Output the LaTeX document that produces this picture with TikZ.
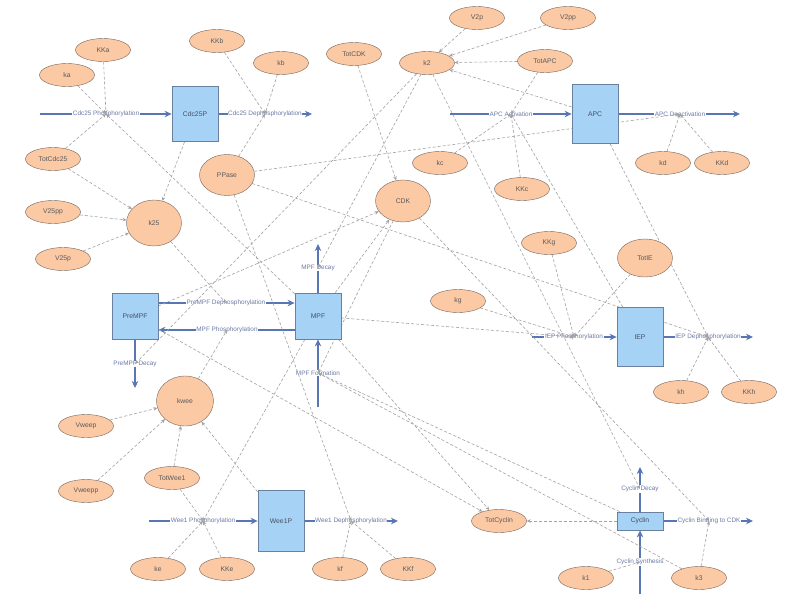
\documentclass[tikz,border=0pt]{standalone}
\usepackage{fontspec}
\setmainfont{Liberation Sans}
\usetikzlibrary{shapes.geometric,arrows.meta,backgrounds}
\definecolor{spfill}{RGB}{252,201,165}
\definecolor{spdraw}{RGB}{120,100,90}
\definecolor{boxfill}{RGB}{166,210,245}
\definecolor{boxdraw}{RGB}{105,128,158}
\definecolor{flowblue}{RGB}{88,118,180}
\definecolor{lblblue}{RGB}{108,122,165}
\definecolor{modgrey}{RGB}{162,162,162}
\definecolor{pooltext}{RGB}{70,80,100}

\begin{document}
\begin{tikzpicture}[x=1pt,y=-1pt,
    species/.style={ellipse,draw=spdraw,fill=spfill,minimum width=55,minimum height=23,
      inner sep=0,text=black!65,font=\fontsize{6.8}{7}\selectfont},
    bigspecies/.style={species,minimum height=42},
    pool/.style={rectangle,draw=boxdraw,line width=0.8pt,fill=boxfill,minimum width=46,
      inner sep=0,text=pooltext,font=\fontsize{6.8}{7}\selectfont},
    flowline/.style={draw=flowblue,line width=1.5pt},
    flow/.style={flowline,-{Stealth[length=7pt,width=6.5pt]}},
    rlabel/.style={fill=white,text=lblblue,inner sep=0.4pt,font=\fontsize{6.4}{7}\selectfont},
    modif/.style={draw=modgrey,line width=0.6pt,dash pattern=on 3pt off 2pt,
      -{Stealth[length=4pt,width=3.5pt]}}]
\useasboundingbox (0,0) rectangle (800,600);

% parameters and totals
\foreach \n/\x/\y in {KKa/103/50, ka/67/75, KKb/217/41, kb/281/63, TotCDK/354/54,
    V2p/477/18, V2pp/568/18, k2/427/63, TotAPC/545/61, kc/440/163, KKc/522/189,
    kd/663/163, KKd/722/163, TotCdc25/53/159, V25pp/53/212, V25p/63/259,
    KKg/549/243, kg/458/301, kh/681/392, KKh/749/392, Vweep/86/426, Vweepp/86/491,
    TotWee1/172/478, ke/158/569, KKe/227/569, kf/340/569, KKf/408/569,
    TotCyclin/499/521, k1/586/578, k3/699/578}
  \node[species] (\n) at (\x,\y) {\n};
\node[bigspecies,minimum height=41] (PPase) at (227,175) {PPase};
\node[bigspecies,minimum height=46] (k25) at (154,223) {k25};
\node[bigspecies] (CDK) at (403,201) {CDK};
\node[bigspecies,minimum height=38] (TotIE) at (645,258) {TotIE};
\node[bigspecies,minimum width=57,minimum height=50] (kwee) at (185,401) {kwee};

% species pools
\node[pool,minimum height=55] (Cdc25P) at (195,114) {Cdc25P};
\node[pool,minimum height=59] (APC) at (595,114) {APC};
\node[pool,minimum height=46] (PreMPF) at (135,316) {PreMPF};
\node[pool,minimum height=46] (MPF) at (318,316) {MPF};
\node[pool,minimum height=59] (IEP) at (640,337) {IEP};
\node[pool,minimum height=61] (Wee1P) at (281,521) {Wee1P};
\node[pool,minimum height=18] (Cyclin) at (640,521) {Cyclin};

\begin{scope}[on background layer]
\fill[white] (0,0) rectangle (800,600);
% reactions
\coordinate (sCdcPh) at (40,114);
\node[rlabel] (rCdcPh) at (106,114) {Cdc25 Phosphorylation};
\draw[flowline] (sCdcPh) -- (rCdcPh);
\draw[flow] (rCdcPh) -- (Cdc25P);

\node[rlabel] (rCdcDeph) at (265,114) {Cdc25 Dephosphorylation};
\coordinate (eCdcDeph) at (312,114);
\draw[flowline] (Cdc25P) -- (rCdcDeph);
\draw[flow] (rCdcDeph) -- (eCdcDeph);

\coordinate (sAPCAct) at (450,114);
\node[rlabel] (rAPCAct) at (511,114) {APC Activation};
\draw[flowline] (sAPCAct) -- (rAPCAct);
\draw[flow] (rAPCAct) -- (APC);

\node[rlabel] (rAPCDeact) at (680,114) {APC Deactivation};
\coordinate (eAPCDeact) at (740,114);
\draw[flowline] (APC) -- (rAPCDeact);
\draw[flow] (rAPCDeact) -- (eAPCDeact);

\node[rlabel] (rPreDeph) at (226,303) {PreMPF Dephosphorylation};
\draw[flowline] (PreMPF.east |- rPreDeph) -- (rPreDeph);
\draw[flow] (rPreDeph) -- (MPF.west |- rPreDeph);

\node[rlabel] (rMPFPh) at (227,330) {MPF Phosphorylation};
\draw[flowline] (MPF.west |- rMPFPh) -- (rMPFPh);
\draw[flow] (rMPFPh) -- (PreMPF.east |- rMPFPh);

\node[rlabel] (rPreDec) at (135,364) {PreMPF Decay};
\coordinate (ePreDec) at (135,388);
\draw[flowline] (PreMPF) -- (rPreDec);
\draw[flow] (rPreDec) -- (ePreDec);

\node[rlabel] (rMPFDec) at (318,268) {MPF Decay};
\coordinate (eMPFDec) at (318,244);
\draw[flowline] (MPF) -- (rMPFDec);
\draw[flow] (rMPFDec) -- (eMPFDec);

\coordinate (sMPFForm) at (318,407);
\node[rlabel] (rMPFForm) at (318,373) {MPF Formation};
\draw[flowline] (sMPFForm) -- (rMPFForm);
\draw[flow] (rMPFForm) -- (MPF);

\coordinate (sWeePh) at (149,521);
\node[rlabel] (rWeePh) at (203,521) {Wee1 Phosphorylation};
\draw[flowline] (sWeePh) -- (rWeePh);
\draw[flow] (rWeePh) -- (Wee1P);

\node[rlabel] (rWeeDeph) at (351,521) {Wee1 Dephosphorylation};
\coordinate (eWeeDeph) at (398,521);
\draw[flowline] (Wee1P) -- (rWeeDeph);
\draw[flow] (rWeeDeph) -- (eWeeDeph);

\coordinate (sIEPPh) at (532,337);
\node[rlabel] (rIEPPh) at (574,337) {IEP Phosphorylation};
\draw[flowline] (sIEPPh) -- (rIEPPh);
\draw[flow] (rIEPPh) -- (IEP);

\node[rlabel] (rIEPDeph) at (708,337) {IEP Dephosphorylation};
\coordinate (eIEPDeph) at (753,337);
\draw[flowline] (IEP) -- (rIEPDeph);
\draw[flow] (rIEPDeph) -- (eIEPDeph);

\node[rlabel] (rCycDec) at (640,489) {Cyclin Decay};
\coordinate (eCycDec) at (640,467);
\draw[flowline] (Cyclin) -- (rCycDec);
\draw[flow] (rCycDec) -- (eCycDec);

\node[rlabel] (rCycBind) at (709,521) {Cyclin Binding to CDK};
\coordinate (eCycBind) at (753,521);
\draw[flowline] (Cyclin) -- (rCycBind);
\draw[flow] (rCycBind) -- (eCycBind);

\coordinate (sCycSyn) at (640,594);
\node[rlabel] (rCycSyn) at (640,562) {Cyclin Synthesis};
\draw[flowline] (sCycSyn) -- (rCycSyn);
\draw[flow] (rCycSyn) -- (Cyclin);

% modifiers of reactions
\foreach \a/\b in {KKa/rCdcPh, ka/rCdcPh, TotCdc25/rCdcPh, MPF/rCdcPh,
    KKb/rCdcDeph, kb/rCdcDeph, PPase/rCdcDeph,
    TotAPC/rAPCAct, kc/rAPCAct, KKc/rAPCAct, IEP/rAPCAct,
    kd/rAPCDeact, KKd/rAPCDeact, PPase/rAPCDeact,
    k25/rPreDeph, kwee/rMPFPh, k2/rPreDec, k2/rMPFDec,
    CDK/rMPFForm, Cyclin/rMPFForm, k3/rMPFForm,
    TotWee1/rWeePh, ke/rWeePh, KKe/rWeePh, MPF/rWeePh,
    kf/rWeeDeph, KKf/rWeeDeph, PPase/rWeeDeph,
    kg/rIEPPh, KKg/rIEPPh, TotIE/rIEPPh, MPF/rIEPPh,
    kh/rIEPDeph, KKh/rIEPDeph, PPase/rIEPDeph, APC/rIEPDeph,
    k2/rCycDec, k3/rCycBind, CDK/rCycBind, k1/rCycSyn}
  \draw[modif] (\a) -- (\b.center);

% rules
\foreach \a/\b in {V2p/k2, V2pp/k2, TotAPC/k2, APC/k2,
    TotCdc25/k25, V25pp/k25, V25p/k25, Cdc25P/k25,
    Vweep/kwee, Vweepp/kwee, TotWee1/kwee, Wee1P/kwee,
    TotCDK/CDK, MPF/CDK, PreMPF/CDK,
    Cyclin/TotCyclin, MPF/TotCyclin, PreMPF/TotCyclin}
  \draw[modif] (\a) -- (\b);
\end{scope}
\end{tikzpicture}
\end{document}
